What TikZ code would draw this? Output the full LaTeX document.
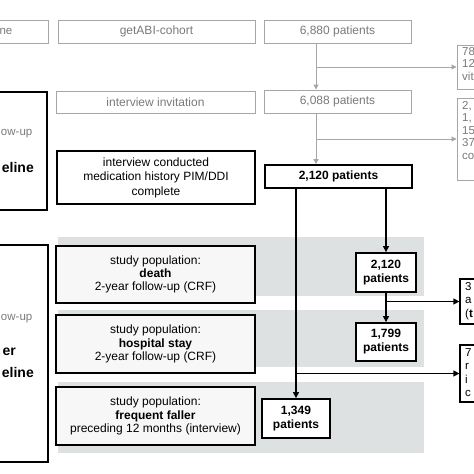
\documentclass[tikz,border=0pt]{standalone}
\usepackage{fontspec}
\setmainfont{Liberation Sans}
\usetikzlibrary{arrows.meta}
\definecolor{gtext}{HTML}{7A7A7A}
\definecolor{gline}{HTML}{A6A6A6}
\definecolor{bandc}{HTML}{DEE1E1}
\definecolor{sfill}{HTML}{F7F7F7}
\tikzset{
  graybox/.style={draw=gline, line width=1pt, fill=white, text=gtext, font=\fontsize{12}{14}\selectfont, inner sep=0pt, align=center},
  conbox/.style={draw=black, line width=1.2pt, fill=white, font=\fontsize{12}{14.5}\selectfont, align=center, inner sep=0pt},
  patbox/.style={draw=black, line width=1.8pt, fill=white, font=\bfseries\fontsize{12}{14}\selectfont, align=center, inner sep=0pt},
  studybox/.style={draw=black, line width=1.2pt, fill=sfill, font=\fontsize{12}{13.2}\selectfont, align=center, inner sep=0pt},
  sidebox/.style={draw=black, line width=1.2pt, fill=white, inner sep=0pt},
  rgray/.style={draw=gline, line width=1pt, fill=white, inner sep=0pt},
  rblack/.style={draw=black, line width=1.2pt, fill=white, inner sep=0pt},
  rgtext/.style={anchor=north west, inner sep=0pt, text=gtext, font=\fontsize{11.5}{12.5}\selectfont, align=left},
  rbtext/.style={anchor=north west, inner sep=0pt, font=\fontsize{11.5}{13.5}\selectfont, align=left},
  sidegray/.style={anchor=east, inner sep=0pt, text=gtext, font=\fontsize{11.5}{14}\selectfont},
  sidebold/.style={anchor=east, inner sep=0pt, font=\bfseries\fontsize{14}{20}\selectfont},
  garrow/.style={draw=gline, line width=1pt, -{Triangle[length=5pt,width=5pt]}},
  barrow/.style={draw=black, line width=1.2pt, -{Triangle[length=6pt,width=6pt]}},
  bandr/.style={fill=bandc, draw=none}
}
\begin{document}
\begin{tikzpicture}[x=1pt,y=-1pt]
\useasboundingbox (0,0) rectangle (474,474);
\fill[white] (0,0) rectangle (474,474);

% gray bands
\fill[bandr] (58,237) rectangle (424,296);
\fill[bandr] (58,310) rectangle (424,367);
\fill[bandr] (58,382) rectangle (424,453);

% top row
\node[graybox, minimum width=148pt, minimum height=23pt] (tl) at (-26,31.5) {};
\node[sidegray] (tltext) at (12.5,31.5) {ne};
\node[graybox, minimum width=197pt, minimum height=23pt] (cohort) at (156.5,31.5) {getABI-cohort};
\node[graybox, minimum width=147pt, minimum height=23pt] (p6880) at (337.5,31.5) {6,880 patients};
\node[rgray, minimum width=143pt, minimum height=44pt] (r1) at (528.5,67) {};
\node[rgtext] (r1t) at (462,47) {78\\12\\vit};

% second row
\node[graybox, minimum width=199pt, minimum height=22pt] (invit) at (155.5,102) {interview invitation};
\node[graybox, minimum width=147pt, minimum height=23pt] (p6088) at (337.5,101.5) {6,088 patients};
\node[rgray, minimum width=143pt, minimum height=82pt] (r2) at (528.5,139) {};
\node[rgtext] (r2t) at (462,101) {2,\\1,\\15\\37\\co};

% left box A
\node[sidebox, minimum width=147pt, minimum height=118pt] (leftA) at (-26.5,151) {};
\node[sidegray] (lA1) at (32.5,134) {ow-up};
\node[sidebold] (lA2) at (34,167) {eline};

% third row
\node[conbox, minimum width=198pt, minimum height=53pt] (cond) at (156,177.5) {interview conducted\\medication history PIM/DDI\\complete};
\node[patbox, minimum width=147pt, minimum height=23pt] (p2120) at (338.5,176.5) {2,120 patients};

% left box B
\node[sidebox, minimum width=148pt, minimum height=217pt] (leftB) at (-26,353.5) {};
\node[sidegray] (lB1) at (32.5,319) {ow-up};
\node[sidebold] (lB2) at (16,352) {er};
\node[sidebold] (lB3) at (34,372) {eline};

% study boxes
\node[studybox, minimum width=199pt, minimum height=57pt] (death) at (155.5,274.5) {study population:\\\textbf{death}\\2-year follow-up (CRF)};
\node[studybox, minimum width=199pt, minimum height=58pt] (hosp) at (155.5,344) {study population:\\\textbf{hospital stay}\\2-year follow-up (CRF)};
\node[studybox, minimum width=199pt, minimum height=58pt] (faller) at (155.5,416) {study population:\\\textbf{frequent faller}\\preceding 12 months (interview)};

% patient boxes
\node[patbox, minimum width=60pt, minimum height=39pt] (pA) at (386,272.5) {2,120\\patients};
\node[patbox, minimum width=60pt, minimum height=38pt] (pB) at (386,342) {1,799\\patients};
\node[patbox, minimum width=68pt, minimum height=39pt] (pC) at (296,418.5) {1,349\\patients};

% right lower boxes
\node[rblack, minimum width=140pt, minimum height=45pt] (r3) at (530,301.5) {};
\node[rbtext] (r3t) at (465,282) {3\\a\\(\textbf{t}};
\node[rblack, minimum width=140pt, minimum height=57pt] (r4) at (530,373.5) {};
\node[rbtext] (r4t) at (465,348) {7\\r\\i\\c};

% gray connectors
\coordinate (gx) at (316,0);
\draw[garrow] (gx |- p6880.south) -- (gx |- p6088.north);
\draw[garrow] (gx |- r1.west) -- (r1.west);
\draw[garrow] (gx |- p6088.south) -- (gx |- p2120.north);
\draw[garrow] (gx |- r2.west) -- (r2.west);

% black connectors
\draw[barrow] (pA |- p2120.south) -- (pA.north);
\draw[barrow] (pA.south) -- (pB.north);
\draw[barrow] (pA.south |- r3.west) -- (r3.west);
\draw[barrow] (pC |- p2120.south) -- (pC.north);
\draw[barrow] (pC.north |- r4.west) -- (r4.west);
\end{tikzpicture}
\end{document}
